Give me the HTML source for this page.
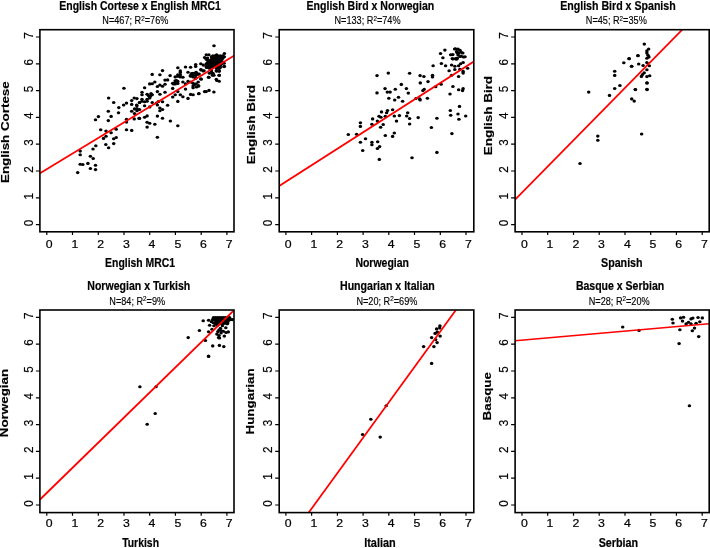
<!DOCTYPE html>
<html><head><meta charset="utf-8"><title>Scatter plots</title>
<style>
html,body{margin:0;padding:0;background:#fff;}
svg{display:block;}
text{font-family:"Liberation Sans",sans-serif;fill:#000;}
.t{font-weight:bold;font-size:12.1px;stroke:#000;stroke-width:0.2;}
.s{font-size:11px;stroke:#000;stroke-width:0.15;}
.k{font-size:10.5px;text-anchor:middle;stroke:#000;stroke-width:0.2;}
.ky{font-size:12.7px;text-anchor:middle;stroke:#000;stroke-width:0.2;}

.a{font-weight:bold;font-size:12.4px;stroke:#000;stroke-width:0.2;}
.y{font-weight:bold;font-size:10px;stroke:#000;stroke-width:0.15;}
.f{fill:none;stroke:#000;stroke-width:1.6;}
.tk{fill:none;stroke:#000;stroke-width:1.2;}
.d{fill:#000;}
.r{stroke:#ff0000;stroke-width:1.75;fill:none;}
</style></head><body>
<svg width="710" height="548" viewBox="0 0 710 548">
<rect width="710" height="548" fill="#fff"/>
<g id="p1">
<clipPath id="c1"><rect x="39.9" y="29.7" width="194.1" height="202.1"/></clipPath>
<text class="t" x="59.3" y="9.8" textLength="161.6" lengthAdjust="spacingAndGlyphs">English Cortese x English MRC1</text>
<text class="s" transform="translate(102.3 24.4) scale(0.832 1)">N=467; R<tspan font-size="7.6" dy="-3.8">2</tspan><tspan dy="3.8">=76%</tspan></text>
<text class="k" transform="translate(49.1 247.7) scale(1.17 1)">0</text>
<text class="ky" transform="translate(32.7 223.0) rotate(-90) scale(0.92 1)">0</text>
<text class="k" transform="translate(74.8 247.7) scale(1.17 1)">1</text>
<text class="ky" transform="translate(32.7 196.2) rotate(-90) scale(0.92 1)">1</text>
<text class="k" transform="translate(100.6 247.7) scale(1.17 1)">2</text>
<text class="ky" transform="translate(32.7 169.4) rotate(-90) scale(0.92 1)">2</text>
<text class="k" transform="translate(126.3 247.7) scale(1.17 1)">3</text>
<text class="ky" transform="translate(32.7 142.6) rotate(-90) scale(0.92 1)">3</text>
<text class="k" transform="translate(152.0 247.7) scale(1.17 1)">4</text>
<text class="ky" transform="translate(32.7 115.8) rotate(-90) scale(0.92 1)">4</text>
<text class="k" transform="translate(177.8 247.7) scale(1.17 1)">5</text>
<text class="ky" transform="translate(32.7 89.0) rotate(-90) scale(0.92 1)">5</text>
<text class="k" transform="translate(203.5 247.7) scale(1.17 1)">6</text>
<text class="ky" transform="translate(32.7 62.2) rotate(-90) scale(0.92 1)">6</text>
<text class="k" transform="translate(229.2 247.7) scale(1.17 1)">7</text>
<text class="ky" transform="translate(32.7 35.4) rotate(-90) scale(0.92 1)">7</text>
<path class="tk" d="M46.8 231.8v3.2M39.9 224.6h-4M72.5 231.8v3.2M39.9 197.8h-4M98.3 231.8v3.2M39.9 171.0h-4M124.0 231.8v3.2M39.9 144.2h-4M149.7 231.8v3.2M39.9 117.4h-4M175.4 231.8v3.2M39.9 90.6h-4M201.2 231.8v3.2M39.9 63.8h-4M226.9 231.8v3.2M39.9 37.0h-4"/>
<g class="d"><ellipse cx="77.7" cy="172.6" rx="1.75" ry="1.55"/><ellipse cx="80.2" cy="151.1" rx="1.75" ry="1.55"/><ellipse cx="80.2" cy="154.7" rx="1.75" ry="1.55"/><ellipse cx="80.2" cy="164.3" rx="1.75" ry="1.55"/><ellipse cx="82.8" cy="164.5" rx="1.75" ry="1.55"/><ellipse cx="87.9" cy="163.4" rx="1.75" ry="1.55"/><ellipse cx="90.4" cy="156.2" rx="1.75" ry="1.55"/><ellipse cx="93.2" cy="158.5" rx="1.75" ry="1.55"/><ellipse cx="90.4" cy="168.5" rx="1.75" ry="1.55"/><ellipse cx="95.5" cy="165.2" rx="1.75" ry="1.55"/><ellipse cx="95.5" cy="169.6" rx="1.75" ry="1.55"/><ellipse cx="93.0" cy="149.0" rx="1.75" ry="1.55"/><ellipse cx="95.8" cy="145.8" rx="1.75" ry="1.55"/><ellipse cx="95.5" cy="119.8" rx="1.75" ry="1.55"/><ellipse cx="98.4" cy="116.6" rx="1.75" ry="1.55"/><ellipse cx="100.7" cy="129.8" rx="1.75" ry="1.55"/><ellipse cx="103.5" cy="138.4" rx="1.75" ry="1.55"/><ellipse cx="106.0" cy="136.2" rx="1.75" ry="1.55"/><ellipse cx="106.0" cy="131.1" rx="1.75" ry="1.55"/><ellipse cx="105.8" cy="144.5" rx="1.75" ry="1.55"/><ellipse cx="108.6" cy="147.7" rx="1.75" ry="1.55"/><ellipse cx="108.3" cy="120.6" rx="1.75" ry="1.55"/><ellipse cx="108.3" cy="111.3" rx="1.75" ry="1.55"/><ellipse cx="111.1" cy="116.4" rx="1.75" ry="1.55"/><ellipse cx="111.1" cy="132.7" rx="1.75" ry="1.55"/><ellipse cx="113.7" cy="138.7" rx="1.75" ry="1.55"/><ellipse cx="116.2" cy="137.5" rx="1.75" ry="1.55"/><ellipse cx="113.7" cy="143.6" rx="1.75" ry="1.55"/><ellipse cx="116.2" cy="129.2" rx="1.75" ry="1.55"/><ellipse cx="118.5" cy="112.8" rx="1.75" ry="1.55"/><ellipse cx="126.5" cy="119.2" rx="1.75" ry="1.55"/><ellipse cx="126.5" cy="122.1" rx="1.75" ry="1.55"/><ellipse cx="126.5" cy="129.8" rx="1.75" ry="1.55"/><ellipse cx="131.7" cy="130.4" rx="1.75" ry="1.55"/><ellipse cx="134.2" cy="118.9" rx="1.75" ry="1.55"/><ellipse cx="131.7" cy="111.3" rx="1.75" ry="1.55"/><ellipse cx="134.5" cy="113.6" rx="1.75" ry="1.55"/><ellipse cx="139.0" cy="118.3" rx="1.75" ry="1.55"/><ellipse cx="123.9" cy="88.2" rx="1.75" ry="1.55"/><ellipse cx="108.6" cy="98.0" rx="1.75" ry="1.55"/><ellipse cx="113.7" cy="102.5" rx="1.75" ry="1.55"/><ellipse cx="118.8" cy="107.6" rx="1.75" ry="1.55"/><ellipse cx="123.6" cy="105.0" rx="1.75" ry="1.55"/><ellipse cx="126.5" cy="103.1" rx="1.75" ry="1.55"/><ellipse cx="131.7" cy="100.6" rx="1.75" ry="1.55"/><ellipse cx="134.2" cy="98.0" rx="1.75" ry="1.55"/><ellipse cx="131.7" cy="104.4" rx="1.75" ry="1.55"/><ellipse cx="136.7" cy="105.0" rx="1.75" ry="1.55"/><ellipse cx="139.6" cy="102.5" rx="1.75" ry="1.55"/><ellipse cx="134.5" cy="108.9" rx="1.75" ry="1.55"/><ellipse cx="137.0" cy="110.8" rx="1.75" ry="1.55"/><ellipse cx="157.4" cy="137.3" rx="1.75" ry="1.55"/><ellipse cx="177.8" cy="125.7" rx="1.75" ry="1.55"/><ellipse cx="170.4" cy="121.0" rx="1.75" ry="1.55"/><ellipse cx="154.8" cy="124.2" rx="1.75" ry="1.55"/><ellipse cx="147.1" cy="127.1" rx="1.75" ry="1.55"/><ellipse cx="147.1" cy="122.3" rx="1.75" ry="1.55"/><ellipse cx="149.7" cy="123.3" rx="1.75" ry="1.55"/><ellipse cx="139.5" cy="118.4" rx="1.75" ry="1.55"/><ellipse cx="144.6" cy="117.2" rx="1.75" ry="1.55"/><ellipse cx="147.1" cy="115.9" rx="1.75" ry="1.55"/><ellipse cx="157.4" cy="116.1" rx="1.75" ry="1.55"/><ellipse cx="162.5" cy="118.2" rx="1.75" ry="1.55"/><ellipse cx="159.9" cy="110.8" rx="1.75" ry="1.55"/><ellipse cx="162.5" cy="109.5" rx="1.75" ry="1.55"/><ellipse cx="159.9" cy="108.0" rx="1.75" ry="1.55"/><ellipse cx="167.6" cy="105.3" rx="1.75" ry="1.55"/><ellipse cx="177.8" cy="101.4" rx="1.75" ry="1.55"/><ellipse cx="157.4" cy="105.0" rx="1.75" ry="1.55"/><ellipse cx="162.5" cy="101.8" rx="1.75" ry="1.55"/><ellipse cx="152.2" cy="102.5" rx="1.75" ry="1.55"/><ellipse cx="149.7" cy="106.9" rx="1.75" ry="1.55"/><ellipse cx="144.6" cy="105.7" rx="1.75" ry="1.55"/><ellipse cx="136.9" cy="105.7" rx="1.75" ry="1.55"/><ellipse cx="136.9" cy="108.5" rx="1.75" ry="1.55"/><ellipse cx="139.5" cy="109.5" rx="1.75" ry="1.55"/><ellipse cx="139.5" cy="102.5" rx="1.75" ry="1.55"/><ellipse cx="142.0" cy="99.3" rx="1.75" ry="1.55"/><ellipse cx="142.0" cy="101.2" rx="1.75" ry="1.55"/><ellipse cx="144.6" cy="101.8" rx="1.75" ry="1.55"/><ellipse cx="147.1" cy="101.2" rx="1.75" ry="1.55"/><ellipse cx="147.1" cy="99.3" rx="1.75" ry="1.55"/><ellipse cx="149.7" cy="98.0" rx="1.75" ry="1.55"/><ellipse cx="142.0" cy="92.2" rx="1.75" ry="1.55"/><ellipse cx="142.0" cy="94.8" rx="1.75" ry="1.55"/><ellipse cx="144.6" cy="87.8" rx="1.75" ry="1.55"/><ellipse cx="147.1" cy="94.2" rx="1.75" ry="1.55"/><ellipse cx="148.4" cy="95.4" rx="1.75" ry="1.55"/><ellipse cx="149.7" cy="96.7" rx="1.75" ry="1.55"/><ellipse cx="152.2" cy="94.8" rx="1.75" ry="1.55"/><ellipse cx="149.7" cy="83.9" rx="1.75" ry="1.55"/><ellipse cx="152.2" cy="83.7" rx="1.75" ry="1.55"/><ellipse cx="154.8" cy="82.0" rx="1.75" ry="1.55"/><ellipse cx="157.4" cy="91.6" rx="1.75" ry="1.55"/><ellipse cx="159.9" cy="94.2" rx="1.75" ry="1.55"/><ellipse cx="165.0" cy="92.2" rx="1.75" ry="1.55"/><ellipse cx="157.4" cy="86.5" rx="1.75" ry="1.55"/><ellipse cx="159.9" cy="85.0" rx="1.75" ry="1.55"/><ellipse cx="162.5" cy="86.2" rx="1.75" ry="1.55"/><ellipse cx="165.0" cy="84.2" rx="1.75" ry="1.55"/><ellipse cx="165.0" cy="80.1" rx="1.75" ry="1.55"/><ellipse cx="167.6" cy="79.9" rx="1.75" ry="1.55"/><ellipse cx="170.1" cy="75.6" rx="1.75" ry="1.55"/><ellipse cx="172.7" cy="83.3" rx="1.75" ry="1.55"/><ellipse cx="175.2" cy="83.9" rx="1.75" ry="1.55"/><ellipse cx="175.2" cy="80.7" rx="1.75" ry="1.55"/><ellipse cx="177.8" cy="81.4" rx="1.75" ry="1.55"/><ellipse cx="172.7" cy="88.4" rx="1.75" ry="1.55"/><ellipse cx="177.8" cy="91.6" rx="1.75" ry="1.55"/><ellipse cx="175.2" cy="94.8" rx="1.75" ry="1.55"/><ellipse cx="172.7" cy="97.0" rx="1.75" ry="1.55"/><ellipse cx="180.3" cy="94.8" rx="1.75" ry="1.55"/><ellipse cx="182.9" cy="96.7" rx="1.75" ry="1.55"/><ellipse cx="188.0" cy="98.4" rx="1.75" ry="1.55"/><ellipse cx="190.6" cy="94.4" rx="1.75" ry="1.55"/><ellipse cx="193.1" cy="94.8" rx="1.75" ry="1.55"/><ellipse cx="198.9" cy="93.5" rx="1.75" ry="1.55"/><ellipse cx="204.6" cy="91.6" rx="1.75" ry="1.55"/><ellipse cx="185.5" cy="89.1" rx="1.75" ry="1.55"/><ellipse cx="193.1" cy="87.8" rx="1.75" ry="1.55"/><ellipse cx="193.1" cy="85.9" rx="1.75" ry="1.55"/><ellipse cx="198.2" cy="85.9" rx="1.75" ry="1.55"/><ellipse cx="185.5" cy="83.9" rx="1.75" ry="1.55"/><ellipse cx="182.9" cy="82.0" rx="1.75" ry="1.55"/><ellipse cx="188.0" cy="81.4" rx="1.75" ry="1.55"/><ellipse cx="190.6" cy="82.0" rx="1.75" ry="1.55"/><ellipse cx="193.1" cy="83.3" rx="1.75" ry="1.55"/><ellipse cx="177.8" cy="76.3" rx="1.75" ry="1.55"/><ellipse cx="180.3" cy="76.9" rx="1.75" ry="1.55"/><ellipse cx="182.9" cy="77.3" rx="1.75" ry="1.55"/><ellipse cx="175.2" cy="76.9" rx="1.75" ry="1.55"/><ellipse cx="190.6" cy="76.3" rx="1.75" ry="1.55"/><ellipse cx="193.1" cy="76.9" rx="1.75" ry="1.55"/><ellipse cx="195.7" cy="78.2" rx="1.75" ry="1.55"/><ellipse cx="200.8" cy="78.8" rx="1.75" ry="1.55"/><ellipse cx="198.2" cy="82.0" rx="1.75" ry="1.55"/><ellipse cx="136.9" cy="98.6" rx="1.75" ry="1.55"/><ellipse cx="152.2" cy="74.4" rx="1.75" ry="1.55"/><ellipse cx="159.9" cy="74.7" rx="1.75" ry="1.55"/><ellipse cx="162.5" cy="70.6" rx="1.75" ry="1.55"/><ellipse cx="177.8" cy="67.7" rx="1.75" ry="1.55"/><ellipse cx="180.3" cy="70.9" rx="1.75" ry="1.55"/><ellipse cx="177.8" cy="74.7" rx="1.75" ry="1.55"/><ellipse cx="185.5" cy="67.0" rx="1.75" ry="1.55"/><ellipse cx="190.6" cy="67.3" rx="1.75" ry="1.55"/><ellipse cx="188.0" cy="72.2" rx="1.75" ry="1.55"/><ellipse cx="195.7" cy="64.5" rx="1.75" ry="1.55"/><ellipse cx="195.7" cy="66.4" rx="1.75" ry="1.55"/><ellipse cx="200.8" cy="63.8" rx="1.75" ry="1.55"/><ellipse cx="203.3" cy="65.1" rx="1.75" ry="1.55"/><ellipse cx="204.6" cy="57.5" rx="1.75" ry="1.55"/><ellipse cx="193.1" cy="73.4" rx="1.75" ry="1.55"/><ellipse cx="195.7" cy="72.8" rx="1.75" ry="1.55"/><ellipse cx="198.2" cy="74.1" rx="1.75" ry="1.55"/><ellipse cx="190.6" cy="75.3" rx="1.75" ry="1.55"/><ellipse cx="200.8" cy="69.6" rx="1.75" ry="1.55"/><ellipse cx="203.3" cy="70.9" rx="1.75" ry="1.55"/><ellipse cx="180.3" cy="74.7" rx="1.75" ry="1.55"/><ellipse cx="214.0" cy="45.7" rx="1.75" ry="1.55"/><ellipse cx="198.7" cy="93.7" rx="1.75" ry="1.55"/><ellipse cx="206.1" cy="91.6" rx="1.75" ry="1.55"/><ellipse cx="209.0" cy="90.4" rx="1.75" ry="1.55"/><ellipse cx="213.9" cy="92.0" rx="1.75" ry="1.55"/><ellipse cx="216.8" cy="80.5" rx="1.75" ry="1.55"/><ellipse cx="219.2" cy="81.2" rx="1.75" ry="1.55"/><ellipse cx="219.2" cy="75.2" rx="1.75" ry="1.55"/><ellipse cx="208.5" cy="77.2" rx="1.75" ry="1.55"/><ellipse cx="201.2" cy="79.3" rx="1.75" ry="1.55"/><ellipse cx="196.2" cy="83.8" rx="1.75" ry="1.55"/><ellipse cx="198.7" cy="85.9" rx="1.75" ry="1.55"/><ellipse cx="213.9" cy="75.2" rx="1.75" ry="1.55"/><ellipse cx="212.2" cy="73.1" rx="1.75" ry="1.55"/><ellipse cx="216.3" cy="70.7" rx="1.75" ry="1.55"/><ellipse cx="219.2" cy="71.1" rx="1.75" ry="1.55"/><ellipse cx="224.1" cy="66.6" rx="1.75" ry="1.55"/><ellipse cx="224.1" cy="63.3" rx="1.75" ry="1.55"/><ellipse cx="196.2" cy="72.3" rx="1.75" ry="1.55"/><ellipse cx="196.2" cy="74.8" rx="1.75" ry="1.55"/><ellipse cx="199.1" cy="74.0" rx="1.75" ry="1.55"/><ellipse cx="201.2" cy="69.9" rx="1.75" ry="1.55"/><ellipse cx="204.0" cy="70.7" rx="1.75" ry="1.55"/><ellipse cx="206.5" cy="67.4" rx="1.75" ry="1.55"/><ellipse cx="209.4" cy="68.2" rx="1.75" ry="1.55"/><ellipse cx="211.4" cy="70.7" rx="1.75" ry="1.55"/><ellipse cx="206.3" cy="54.7" rx="1.75" ry="1.55"/><ellipse cx="208.9" cy="54.7" rx="1.75" ry="1.55"/><ellipse cx="216.6" cy="54.7" rx="1.75" ry="1.55"/><ellipse cx="224.4" cy="53.5" rx="1.75" ry="1.55"/><ellipse cx="211.5" cy="56.8" rx="1.75" ry="1.55"/><ellipse cx="214.0" cy="56.8" rx="1.75" ry="1.55"/><ellipse cx="216.6" cy="56.8" rx="1.75" ry="1.55"/><ellipse cx="219.2" cy="56.8" rx="1.75" ry="1.55"/><ellipse cx="221.8" cy="56.8" rx="1.75" ry="1.55"/><ellipse cx="224.3" cy="56.8" rx="1.75" ry="1.55"/><ellipse cx="206.3" cy="59.2" rx="1.75" ry="1.55"/><ellipse cx="211.5" cy="59.2" rx="1.75" ry="1.55"/><ellipse cx="214.0" cy="59.2" rx="1.75" ry="1.55"/><ellipse cx="216.6" cy="59.2" rx="1.75" ry="1.55"/><ellipse cx="219.2" cy="59.2" rx="1.75" ry="1.55"/><ellipse cx="221.8" cy="59.2" rx="1.75" ry="1.55"/><ellipse cx="208.9" cy="61.3" rx="1.75" ry="1.55"/><ellipse cx="211.5" cy="61.3" rx="1.75" ry="1.55"/><ellipse cx="214.0" cy="61.3" rx="1.75" ry="1.55"/><ellipse cx="216.6" cy="61.3" rx="1.75" ry="1.55"/><ellipse cx="219.2" cy="61.3" rx="1.75" ry="1.55"/><ellipse cx="221.8" cy="61.3" rx="1.75" ry="1.55"/><ellipse cx="206.3" cy="63.7" rx="1.75" ry="1.55"/><ellipse cx="208.9" cy="63.7" rx="1.75" ry="1.55"/><ellipse cx="211.5" cy="63.7" rx="1.75" ry="1.55"/><ellipse cx="214.0" cy="63.7" rx="1.75" ry="1.55"/><ellipse cx="216.6" cy="63.7" rx="1.75" ry="1.55"/><ellipse cx="219.2" cy="63.7" rx="1.75" ry="1.55"/><ellipse cx="221.8" cy="63.7" rx="1.75" ry="1.55"/><ellipse cx="206.3" cy="66.2" rx="1.75" ry="1.55"/><ellipse cx="208.9" cy="66.2" rx="1.75" ry="1.55"/><ellipse cx="211.5" cy="66.2" rx="1.75" ry="1.55"/><ellipse cx="214.0" cy="66.2" rx="1.75" ry="1.55"/><ellipse cx="224.3" cy="66.2" rx="1.75" ry="1.55"/><ellipse cx="216.6" cy="68.5" rx="1.75" ry="1.55"/><ellipse cx="219.2" cy="68.5" rx="1.75" ry="1.55"/><ellipse cx="216.6" cy="71.1" rx="1.75" ry="1.55"/><ellipse cx="219.2" cy="71.1" rx="1.75" ry="1.55"/><ellipse cx="209.5" cy="73.2" rx="1.75" ry="1.55"/><ellipse cx="213.0" cy="73.2" rx="1.75" ry="1.55"/><ellipse cx="212.5" cy="75.2" rx="1.75" ry="1.55"/><ellipse cx="219.2" cy="75.2" rx="1.75" ry="1.55"/><ellipse cx="208.9" cy="77.3" rx="1.75" ry="1.55"/><ellipse cx="216.3" cy="79.3" rx="1.75" ry="1.55"/><ellipse cx="175.2" cy="82.3" rx="1.75" ry="1.55"/><ellipse cx="177.8" cy="83.5" rx="1.75" ry="1.55"/><ellipse cx="173.5" cy="84.0" rx="1.75" ry="1.55"/><ellipse cx="176.5" cy="80.5" rx="1.75" ry="1.55"/><ellipse cx="180.3" cy="72.5" rx="1.75" ry="1.55"/><ellipse cx="178.5" cy="76.0" rx="1.75" ry="1.55"/><ellipse cx="193.1" cy="75.0" rx="1.75" ry="1.55"/><ellipse cx="195.7" cy="75.5" rx="1.75" ry="1.55"/><ellipse cx="191.5" cy="73.5" rx="1.75" ry="1.55"/><ellipse cx="194.5" cy="84.5" rx="1.75" ry="1.55"/><ellipse cx="196.5" cy="87.0" rx="1.75" ry="1.55"/><ellipse cx="150.5" cy="96.0" rx="1.75" ry="1.55"/><ellipse cx="151.0" cy="93.5" rx="1.75" ry="1.55"/><ellipse cx="158.5" cy="101.5" rx="1.75" ry="1.55"/><ellipse cx="156.5" cy="103.0" rx="1.75" ry="1.55"/><ellipse cx="213.0" cy="55.8" rx="1.75" ry="1.55"/><ellipse cx="215.3" cy="55.8" rx="1.75" ry="1.55"/><ellipse cx="217.8" cy="55.8" rx="1.75" ry="1.55"/><ellipse cx="220.3" cy="55.8" rx="1.75" ry="1.55"/><ellipse cx="222.8" cy="55.8" rx="1.75" ry="1.55"/><ellipse cx="207.5" cy="58.0" rx="1.75" ry="1.55"/><ellipse cx="212.6" cy="58.0" rx="1.75" ry="1.55"/><ellipse cx="215.2" cy="58.0" rx="1.75" ry="1.55"/><ellipse cx="217.9" cy="58.0" rx="1.75" ry="1.55"/><ellipse cx="220.4" cy="58.0" rx="1.75" ry="1.55"/><ellipse cx="223.0" cy="58.0" rx="1.75" ry="1.55"/><ellipse cx="207.6" cy="60.3" rx="1.75" ry="1.55"/><ellipse cx="210.2" cy="60.3" rx="1.75" ry="1.55"/><ellipse cx="212.8" cy="60.3" rx="1.75" ry="1.55"/><ellipse cx="215.3" cy="60.3" rx="1.75" ry="1.55"/><ellipse cx="217.9" cy="60.3" rx="1.75" ry="1.55"/><ellipse cx="220.5" cy="60.3" rx="1.75" ry="1.55"/><ellipse cx="207.6" cy="62.5" rx="1.75" ry="1.55"/><ellipse cx="210.2" cy="62.5" rx="1.75" ry="1.55"/><ellipse cx="212.8" cy="62.5" rx="1.75" ry="1.55"/><ellipse cx="215.3" cy="62.5" rx="1.75" ry="1.55"/><ellipse cx="217.9" cy="62.5" rx="1.75" ry="1.55"/><ellipse cx="220.5" cy="62.5" rx="1.75" ry="1.55"/><ellipse cx="223.0" cy="62.5" rx="1.75" ry="1.55"/><ellipse cx="207.6" cy="65.0" rx="1.75" ry="1.55"/><ellipse cx="210.2" cy="65.0" rx="1.75" ry="1.55"/><ellipse cx="212.8" cy="65.0" rx="1.75" ry="1.55"/><ellipse cx="215.3" cy="65.0" rx="1.75" ry="1.55"/><ellipse cx="218.0" cy="65.0" rx="1.75" ry="1.55"/><ellipse cx="220.5" cy="65.0" rx="1.75" ry="1.55"/><ellipse cx="207.6" cy="67.3" rx="1.75" ry="1.55"/><ellipse cx="210.2" cy="67.3" rx="1.75" ry="1.55"/><ellipse cx="212.8" cy="67.3" rx="1.75" ry="1.55"/><ellipse cx="218.0" cy="67.3" rx="1.75" ry="1.55"/><ellipse cx="220.5" cy="67.3" rx="1.75" ry="1.55"/></g>
<path class="r" clip-path="url(#c1)" d="M40 173.2L234 55.8"/>
<rect class="f" x="39.9" y="29.7" width="194.1" height="202.1"/>
<text class="a" x="105.1" y="266.6" textLength="70.0" lengthAdjust="spacingAndGlyphs">English MRC1</text>
<text class="y" transform="translate(8.6 183.0) rotate(-90)" textLength="101.7" lengthAdjust="spacingAndGlyphs">English Cortese</text>
</g>
<g id="p2">
<clipPath id="c2"><rect x="279.2" y="29.7" width="194.6" height="202.1"/></clipPath>
<text class="t" x="306.6" y="9.8" textLength="127.6" lengthAdjust="spacingAndGlyphs">English Bird x Norwegian</text>
<text class="s" transform="translate(334.5 24.4) scale(0.832 1)">N=133; R<tspan font-size="7.6" dy="-3.8">2</tspan><tspan dy="3.8">=74%</tspan></text>
<text class="k" transform="translate(288.2 247.7) scale(1.17 1)">0</text>
<text class="ky" transform="translate(272.0 223.0) rotate(-90) scale(0.92 1)">0</text>
<text class="k" transform="translate(313.9 247.7) scale(1.17 1)">1</text>
<text class="ky" transform="translate(272.0 196.2) rotate(-90) scale(0.92 1)">1</text>
<text class="k" transform="translate(339.7 247.7) scale(1.17 1)">2</text>
<text class="ky" transform="translate(272.0 169.4) rotate(-90) scale(0.92 1)">2</text>
<text class="k" transform="translate(365.4 247.7) scale(1.17 1)">3</text>
<text class="ky" transform="translate(272.0 142.6) rotate(-90) scale(0.92 1)">3</text>
<text class="k" transform="translate(391.1 247.7) scale(1.17 1)">4</text>
<text class="ky" transform="translate(272.0 115.8) rotate(-90) scale(0.92 1)">4</text>
<text class="k" transform="translate(416.8 247.7) scale(1.17 1)">5</text>
<text class="ky" transform="translate(272.0 89.0) rotate(-90) scale(0.92 1)">5</text>
<text class="k" transform="translate(442.6 247.7) scale(1.17 1)">6</text>
<text class="ky" transform="translate(272.0 62.2) rotate(-90) scale(0.92 1)">6</text>
<text class="k" transform="translate(468.3 247.7) scale(1.17 1)">7</text>
<text class="ky" transform="translate(272.0 35.4) rotate(-90) scale(0.92 1)">7</text>
<path class="tk" d="M285.9 231.8v3.2M279.2 224.6h-4M311.6 231.8v3.2M279.2 197.8h-4M337.4 231.8v3.2M279.2 171.0h-4M363.1 231.8v3.2M279.2 144.2h-4M388.8 231.8v3.2M279.2 117.4h-4M414.5 231.8v3.2M279.2 90.6h-4M440.3 231.8v3.2M279.2 63.8h-4M466.0 231.8v3.2M279.2 37.0h-4"/>
<g class="d"><ellipse cx="348.3" cy="134.5" rx="1.75" ry="1.55"/><ellipse cx="356.6" cy="134.2" rx="1.75" ry="1.55"/><ellipse cx="360.4" cy="122.7" rx="1.75" ry="1.55"/><ellipse cx="360.4" cy="126.4" rx="1.75" ry="1.55"/><ellipse cx="360.4" cy="142.2" rx="1.75" ry="1.55"/><ellipse cx="365.5" cy="138.7" rx="1.75" ry="1.55"/><ellipse cx="362.7" cy="150.5" rx="1.75" ry="1.55"/><ellipse cx="371.9" cy="142.2" rx="1.75" ry="1.55"/><ellipse cx="371.9" cy="144.7" rx="1.75" ry="1.55"/><ellipse cx="377.7" cy="141.8" rx="1.75" ry="1.55"/><ellipse cx="379.6" cy="146.6" rx="1.75" ry="1.55"/><ellipse cx="377.4" cy="148.5" rx="1.75" ry="1.55"/><ellipse cx="379.3" cy="159.4" rx="1.75" ry="1.55"/><ellipse cx="372.6" cy="118.9" rx="1.75" ry="1.55"/><ellipse cx="371.9" cy="124.3" rx="1.75" ry="1.55"/><ellipse cx="377.4" cy="121.1" rx="1.75" ry="1.55"/><ellipse cx="379.0" cy="116.3" rx="1.75" ry="1.55"/><ellipse cx="380.9" cy="117.2" rx="1.75" ry="1.55"/><ellipse cx="381.5" cy="111.9" rx="1.75" ry="1.55"/><ellipse cx="380.6" cy="127.2" rx="1.75" ry="1.55"/><ellipse cx="383.2" cy="124.5" rx="1.75" ry="1.55"/><ellipse cx="385.3" cy="135.5" rx="1.75" ry="1.55"/><ellipse cx="385.3" cy="116.3" rx="1.75" ry="1.55"/><ellipse cx="386.6" cy="112.8" rx="1.75" ry="1.55"/><ellipse cx="387.5" cy="110.5" rx="1.75" ry="1.55"/><ellipse cx="392.6" cy="109.8" rx="1.75" ry="1.55"/><ellipse cx="394.3" cy="116.0" rx="1.75" ry="1.55"/><ellipse cx="399.4" cy="115.6" rx="1.75" ry="1.55"/><ellipse cx="396.5" cy="121.1" rx="1.75" ry="1.55"/><ellipse cx="394.3" cy="133.0" rx="1.75" ry="1.55"/><ellipse cx="392.6" cy="136.4" rx="1.75" ry="1.55"/><ellipse cx="406.7" cy="116.0" rx="1.75" ry="1.55"/><ellipse cx="407.7" cy="112.8" rx="1.75" ry="1.55"/><ellipse cx="409.6" cy="118.5" rx="1.75" ry="1.55"/><ellipse cx="409.6" cy="124.0" rx="1.75" ry="1.55"/><ellipse cx="394.7" cy="100.0" rx="1.75" ry="1.55"/><ellipse cx="402.6" cy="101.3" rx="1.75" ry="1.55"/><ellipse cx="418.2" cy="117.6" rx="1.75" ry="1.55"/><ellipse cx="420.1" cy="100.0" rx="1.75" ry="1.55"/><ellipse cx="431.4" cy="127.5" rx="1.75" ry="1.55"/><ellipse cx="436.9" cy="118.3" rx="1.75" ry="1.55"/><ellipse cx="436.9" cy="152.4" rx="1.75" ry="1.55"/><ellipse cx="412.0" cy="157.7" rx="1.75" ry="1.55"/><ellipse cx="450.3" cy="110.5" rx="1.75" ry="1.55"/><ellipse cx="450.7" cy="115.3" rx="1.75" ry="1.55"/><ellipse cx="451.9" cy="133.6" rx="1.75" ry="1.55"/><ellipse cx="459.5" cy="106.4" rx="1.75" ry="1.55"/><ellipse cx="458.0" cy="114.0" rx="1.75" ry="1.55"/><ellipse cx="458.9" cy="119.2" rx="1.75" ry="1.55"/><ellipse cx="465.7" cy="116.0" rx="1.75" ry="1.55"/><ellipse cx="377.0" cy="75.6" rx="1.75" ry="1.55"/><ellipse cx="388.3" cy="73.1" rx="1.75" ry="1.55"/><ellipse cx="409.6" cy="73.3" rx="1.75" ry="1.55"/><ellipse cx="401.3" cy="84.4" rx="1.75" ry="1.55"/><ellipse cx="385.0" cy="88.6" rx="1.75" ry="1.55"/><ellipse cx="395.3" cy="89.3" rx="1.75" ry="1.55"/><ellipse cx="406.4" cy="88.6" rx="1.75" ry="1.55"/><ellipse cx="377.0" cy="92.9" rx="1.75" ry="1.55"/><ellipse cx="387.3" cy="92.1" rx="1.75" ry="1.55"/><ellipse cx="390.1" cy="92.1" rx="1.75" ry="1.55"/><ellipse cx="408.3" cy="93.1" rx="1.75" ry="1.55"/><ellipse cx="388.8" cy="98.2" rx="1.75" ry="1.55"/><ellipse cx="398.5" cy="97.3" rx="1.75" ry="1.55"/><ellipse cx="420.1" cy="75.6" rx="1.75" ry="1.55"/><ellipse cx="423.9" cy="76.5" rx="1.75" ry="1.55"/><ellipse cx="420.3" cy="82.9" rx="1.75" ry="1.55"/><ellipse cx="428.0" cy="81.6" rx="1.75" ry="1.55"/><ellipse cx="432.5" cy="75.2" rx="1.75" ry="1.55"/><ellipse cx="432.5" cy="76.9" rx="1.75" ry="1.55"/><ellipse cx="433.1" cy="65.7" rx="1.75" ry="1.55"/><ellipse cx="424.2" cy="89.3" rx="1.75" ry="1.55"/><ellipse cx="422.9" cy="90.6" rx="1.75" ry="1.55"/><ellipse cx="435.7" cy="86.7" rx="1.75" ry="1.55"/><ellipse cx="441.1" cy="84.2" rx="1.75" ry="1.55"/><ellipse cx="419.7" cy="98.9" rx="1.75" ry="1.55"/><ellipse cx="427.4" cy="98.2" rx="1.75" ry="1.55"/><ellipse cx="415.9" cy="98.5" rx="1.75" ry="1.55"/><ellipse cx="440.5" cy="53.5" rx="1.75" ry="1.55"/><ellipse cx="444.9" cy="50.1" rx="1.75" ry="1.55"/><ellipse cx="442.9" cy="57.7" rx="1.75" ry="1.55"/><ellipse cx="441.4" cy="63.5" rx="1.75" ry="1.55"/><ellipse cx="445.6" cy="65.7" rx="1.75" ry="1.55"/><ellipse cx="449.1" cy="70.8" rx="1.75" ry="1.55"/><ellipse cx="450.0" cy="94.0" rx="1.75" ry="1.55"/><ellipse cx="452.9" cy="86.5" rx="1.75" ry="1.55"/><ellipse cx="458.6" cy="89.7" rx="1.75" ry="1.55"/><ellipse cx="463.1" cy="88.6" rx="1.75" ry="1.55"/><ellipse cx="462.5" cy="90.6" rx="1.75" ry="1.55"/><ellipse cx="450.7" cy="54.8" rx="1.75" ry="1.55"/><ellipse cx="451.6" cy="65.0" rx="1.75" ry="1.55"/><ellipse cx="452.3" cy="58.6" rx="1.75" ry="1.55"/><ellipse cx="455.5" cy="58.6" rx="1.75" ry="1.55"/><ellipse cx="457.4" cy="58.0" rx="1.75" ry="1.55"/><ellipse cx="454.8" cy="66.3" rx="1.75" ry="1.55"/><ellipse cx="454.8" cy="69.5" rx="1.75" ry="1.55"/><ellipse cx="458.6" cy="65.7" rx="1.75" ry="1.55"/><ellipse cx="460.6" cy="63.7" rx="1.75" ry="1.55"/><ellipse cx="463.1" cy="62.5" rx="1.75" ry="1.55"/><ellipse cx="455.5" cy="48.8" rx="1.75" ry="1.55"/><ellipse cx="458.0" cy="49.1" rx="1.75" ry="1.55"/><ellipse cx="456.7" cy="51.6" rx="1.75" ry="1.55"/><ellipse cx="458.6" cy="52.9" rx="1.75" ry="1.55"/><ellipse cx="461.2" cy="52.2" rx="1.75" ry="1.55"/><ellipse cx="458.0" cy="54.8" rx="1.75" ry="1.55"/><ellipse cx="461.2" cy="56.1" rx="1.75" ry="1.55"/><ellipse cx="465.0" cy="56.7" rx="1.75" ry="1.55"/><ellipse cx="467.6" cy="68.2" rx="1.75" ry="1.55"/><ellipse cx="463.1" cy="71.4" rx="1.75" ry="1.55"/><ellipse cx="463.1" cy="73.1" rx="1.75" ry="1.55"/><ellipse cx="458.6" cy="76.5" rx="1.75" ry="1.55"/><ellipse cx="451.6" cy="75.2" rx="1.75" ry="1.55"/><ellipse cx="459.9" cy="69.2" rx="1.75" ry="1.55"/><ellipse cx="454.6" cy="49.0" rx="1.75" ry="1.55"/><ellipse cx="460.0" cy="50.2" rx="1.75" ry="1.55"/><ellipse cx="457.0" cy="52.5" rx="1.75" ry="1.55"/><ellipse cx="462.8" cy="53.0" rx="1.75" ry="1.55"/><ellipse cx="460.0" cy="56.5" rx="1.75" ry="1.55"/><ellipse cx="463.5" cy="57.0" rx="1.75" ry="1.55"/><ellipse cx="452.8" cy="54.6" rx="1.75" ry="1.55"/><ellipse cx="453.0" cy="59.0" rx="1.75" ry="1.55"/><ellipse cx="456.5" cy="59.3" rx="1.75" ry="1.55"/></g>
<path class="r" clip-path="url(#c2)" d="M279.2 186.0L473.8 61.5"/>
<rect class="f" x="279.2" y="29.7" width="194.6" height="202.1"/>
<text class="a" x="355.4" y="266.6" textLength="53.6" lengthAdjust="spacingAndGlyphs">Norwegian</text>
<text class="y" transform="translate(255.0 164.2) rotate(-90)" textLength="79.3" lengthAdjust="spacingAndGlyphs">English Bird</text>
</g>
<g id="p3">
<clipPath id="c3"><rect x="515.1" y="29.7" width="194.1" height="202.1"/></clipPath>
<text class="t" x="560.2" y="9.8" textLength="115.5" lengthAdjust="spacingAndGlyphs">English Bird x Spanish</text>
<text class="s" transform="translate(585.8 24.4) scale(0.832 1)">N=45; R<tspan font-size="7.6" dy="-3.8">2</tspan><tspan dy="3.8">=35%</tspan></text>
<text class="k" transform="translate(524.3 247.7) scale(1.17 1)">0</text>
<text class="ky" transform="translate(507.9 223.0) rotate(-90) scale(0.92 1)">0</text>
<text class="k" transform="translate(550.0 247.7) scale(1.17 1)">1</text>
<text class="ky" transform="translate(507.9 196.2) rotate(-90) scale(0.92 1)">1</text>
<text class="k" transform="translate(575.8 247.7) scale(1.17 1)">2</text>
<text class="ky" transform="translate(507.9 169.4) rotate(-90) scale(0.92 1)">2</text>
<text class="k" transform="translate(601.5 247.7) scale(1.17 1)">3</text>
<text class="ky" transform="translate(507.9 142.6) rotate(-90) scale(0.92 1)">3</text>
<text class="k" transform="translate(627.3 247.7) scale(1.17 1)">4</text>
<text class="ky" transform="translate(507.9 115.8) rotate(-90) scale(0.92 1)">4</text>
<text class="k" transform="translate(653.0 247.7) scale(1.17 1)">5</text>
<text class="ky" transform="translate(507.9 89.0) rotate(-90) scale(0.92 1)">5</text>
<text class="k" transform="translate(678.7 247.7) scale(1.17 1)">6</text>
<text class="ky" transform="translate(507.9 62.2) rotate(-90) scale(0.92 1)">6</text>
<text class="k" transform="translate(704.5 247.7) scale(1.17 1)">7</text>
<text class="ky" transform="translate(507.9 35.4) rotate(-90) scale(0.92 1)">7</text>
<path class="tk" d="M522.0 231.8v3.2M515.1 224.6h-4M547.7 231.8v3.2M515.1 197.8h-4M573.5 231.8v3.2M515.1 171.0h-4M599.2 231.8v3.2M515.1 144.2h-4M625.0 231.8v3.2M515.1 117.4h-4M650.7 231.8v3.2M515.1 90.6h-4M676.4 231.8v3.2M515.1 63.8h-4M702.2 231.8v3.2M515.1 37.0h-4"/>
<g class="d"><ellipse cx="580.0" cy="163.5" rx="1.75" ry="1.55"/><ellipse cx="597.8" cy="136.1" rx="1.75" ry="1.55"/><ellipse cx="597.8" cy="140.2" rx="1.75" ry="1.55"/><ellipse cx="588.7" cy="92.1" rx="1.75" ry="1.55"/><ellipse cx="609.5" cy="95.4" rx="1.75" ry="1.55"/><ellipse cx="614.7" cy="88.5" rx="1.75" ry="1.55"/><ellipse cx="619.9" cy="85.5" rx="1.75" ry="1.55"/><ellipse cx="614.7" cy="71.3" rx="1.75" ry="1.55"/><ellipse cx="614.7" cy="75.4" rx="1.75" ry="1.55"/><ellipse cx="623.8" cy="62.8" rx="1.75" ry="1.55"/><ellipse cx="629.0" cy="58.7" rx="1.75" ry="1.55"/><ellipse cx="631.7" cy="66.3" rx="1.75" ry="1.55"/><ellipse cx="631.7" cy="98.9" rx="1.75" ry="1.55"/><ellipse cx="634.2" cy="101.1" rx="1.75" ry="1.55"/><ellipse cx="635.3" cy="89.6" rx="1.75" ry="1.55"/><ellipse cx="641.6" cy="134.0" rx="1.75" ry="1.55"/><ellipse cx="638.0" cy="55.7" rx="1.75" ry="1.55"/><ellipse cx="647.1" cy="89.6" rx="1.75" ry="1.55"/><ellipse cx="647.1" cy="83.0" rx="1.75" ry="1.55"/><ellipse cx="644.3" cy="44.1" rx="1.75" ry="1.55"/><ellipse cx="648.6" cy="49.0" rx="1.75" ry="1.55"/><ellipse cx="646.9" cy="50.9" rx="1.75" ry="1.55"/><ellipse cx="646.9" cy="53.1" rx="1.75" ry="1.55"/><ellipse cx="648.0" cy="55.3" rx="1.75" ry="1.55"/><ellipse cx="648.9" cy="56.9" rx="1.75" ry="1.55"/><ellipse cx="646.9" cy="58.3" rx="1.75" ry="1.55"/><ellipse cx="637.9" cy="55.5" rx="1.75" ry="1.55"/><ellipse cx="629.2" cy="58.6" rx="1.75" ry="1.55"/><ellipse cx="638.7" cy="64.0" rx="1.75" ry="1.55"/><ellipse cx="631.6" cy="66.2" rx="1.75" ry="1.55"/><ellipse cx="643.1" cy="65.5" rx="1.75" ry="1.55"/><ellipse cx="646.9" cy="62.6" rx="1.75" ry="1.55"/><ellipse cx="649.3" cy="65.7" rx="1.75" ry="1.55"/><ellipse cx="646.9" cy="69.8" rx="1.75" ry="1.55"/><ellipse cx="644.2" cy="72.8" rx="1.75" ry="1.55"/><ellipse cx="642.5" cy="74.5" rx="1.75" ry="1.55"/><ellipse cx="641.4" cy="76.4" rx="1.75" ry="1.55"/><ellipse cx="646.9" cy="76.6" rx="1.75" ry="1.55"/><ellipse cx="649.7" cy="75.8" rx="1.75" ry="1.55"/><ellipse cx="646.9" cy="82.9" rx="1.75" ry="1.55"/><ellipse cx="646.9" cy="89.2" rx="1.75" ry="1.55"/><ellipse cx="635.4" cy="89.5" rx="1.75" ry="1.55"/></g>
<path class="r" clip-path="url(#c3)" d="M515.1 199.6L682.3 29.7"/>
<rect class="f" x="515.1" y="29.7" width="194.1" height="202.1"/>
<text class="a" x="601.0" y="266.6" textLength="41.6" lengthAdjust="spacingAndGlyphs">Spanish</text>
<text class="y" transform="translate(491.7 155.2) rotate(-90)" textLength="79.3" lengthAdjust="spacingAndGlyphs">English Bird</text>
</g>
<g id="p4">
<clipPath id="c4"><rect x="39.9" y="310.0" width="194.1" height="202.6"/></clipPath>
<text class="t" x="87.3" y="290.4" textLength="103.0" lengthAdjust="spacingAndGlyphs">Norwegian x Turkish</text>
<text class="s" transform="translate(109.3 304.8) scale(0.832 1)">N=84; R<tspan font-size="7.6" dy="-3.8">2</tspan><tspan dy="3.8">=9%</tspan></text>
<text class="k" transform="translate(49.1 526.9) scale(1.17 1)">0</text>
<text class="ky" transform="translate(32.7 503.4) rotate(-90) scale(0.92 1)">0</text>
<text class="k" transform="translate(74.8 526.9) scale(1.17 1)">1</text>
<text class="ky" transform="translate(32.7 476.6) rotate(-90) scale(0.92 1)">1</text>
<text class="k" transform="translate(100.6 526.9) scale(1.17 1)">2</text>
<text class="ky" transform="translate(32.7 449.8) rotate(-90) scale(0.92 1)">2</text>
<text class="k" transform="translate(126.3 526.9) scale(1.17 1)">3</text>
<text class="ky" transform="translate(32.7 423.0) rotate(-90) scale(0.92 1)">3</text>
<text class="k" transform="translate(152.0 526.9) scale(1.17 1)">4</text>
<text class="ky" transform="translate(32.7 396.2) rotate(-90) scale(0.92 1)">4</text>
<text class="k" transform="translate(177.8 526.9) scale(1.17 1)">5</text>
<text class="ky" transform="translate(32.7 369.4) rotate(-90) scale(0.92 1)">5</text>
<text class="k" transform="translate(203.5 526.9) scale(1.17 1)">6</text>
<text class="ky" transform="translate(32.7 342.6) rotate(-90) scale(0.92 1)">6</text>
<text class="k" transform="translate(229.2 526.9) scale(1.17 1)">7</text>
<text class="ky" transform="translate(32.7 315.8) rotate(-90) scale(0.92 1)">7</text>
<path class="tk" d="M46.8 512.6v3.2M39.9 505.0h-4M72.5 512.6v3.2M39.9 478.2h-4M98.3 512.6v3.2M39.9 451.4h-4M124.0 512.6v3.2M39.9 424.6h-4M149.7 512.6v3.2M39.9 397.8h-4M175.4 512.6v3.2M39.9 371.0h-4M201.2 512.6v3.2M39.9 344.2h-4M226.9 512.6v3.2M39.9 317.4h-4"/>
<g class="d"><ellipse cx="139.9" cy="386.7" rx="1.75" ry="1.55"/><ellipse cx="156.0" cy="386.7" rx="1.75" ry="1.55"/><ellipse cx="155.2" cy="413.5" rx="1.75" ry="1.55"/><ellipse cx="147.2" cy="424.2" rx="1.75" ry="1.55"/><ellipse cx="188.2" cy="337.6" rx="1.75" ry="1.55"/><ellipse cx="208.5" cy="356.0" rx="1.75" ry="1.55"/><ellipse cx="199.4" cy="330.5" rx="1.75" ry="1.55"/><ellipse cx="203.2" cy="320.8" rx="1.75" ry="1.55"/><ellipse cx="208.6" cy="320.3" rx="1.75" ry="1.55"/><ellipse cx="205.4" cy="340.5" rx="1.75" ry="1.55"/><ellipse cx="208.6" cy="331.8" rx="1.75" ry="1.55"/><ellipse cx="209.6" cy="325.2" rx="1.75" ry="1.55"/><ellipse cx="212.0" cy="329.2" rx="1.75" ry="1.55"/><ellipse cx="212.7" cy="345.9" rx="1.75" ry="1.55"/><ellipse cx="208.6" cy="356.5" rx="1.75" ry="1.55"/><ellipse cx="219.4" cy="345.4" rx="1.75" ry="1.55"/><ellipse cx="223.8" cy="346.6" rx="1.75" ry="1.55"/><ellipse cx="218.6" cy="337.6" rx="1.75" ry="1.55"/><ellipse cx="224.3" cy="336.1" rx="1.75" ry="1.55"/><ellipse cx="228.3" cy="331.9" rx="1.75" ry="1.55"/><ellipse cx="216.9" cy="334.1" rx="1.75" ry="1.55"/><ellipse cx="217.9" cy="331.6" rx="1.75" ry="1.55"/><ellipse cx="223.3" cy="331.2" rx="1.75" ry="1.55"/><ellipse cx="225.8" cy="327.7" rx="1.75" ry="1.55"/><ellipse cx="220.4" cy="328.2" rx="1.75" ry="1.55"/><ellipse cx="222.4" cy="325.7" rx="1.75" ry="1.55"/><ellipse cx="226.8" cy="323.8" rx="1.75" ry="1.55"/><ellipse cx="213.5" cy="322.8" rx="1.75" ry="1.55"/><ellipse cx="211.5" cy="321.8" rx="1.75" ry="1.55"/><ellipse cx="215.5" cy="323.8" rx="1.75" ry="1.55"/><ellipse cx="217.4" cy="325.2" rx="1.75" ry="1.55"/><ellipse cx="214.0" cy="325.7" rx="1.75" ry="1.55"/><ellipse cx="224.8" cy="322.8" rx="1.75" ry="1.55"/><ellipse cx="213.5" cy="317.6" rx="1.75" ry="1.55"/><ellipse cx="215.5" cy="317.6" rx="1.75" ry="1.55"/><ellipse cx="217.5" cy="317.6" rx="1.75" ry="1.55"/><ellipse cx="219.5" cy="317.6" rx="1.75" ry="1.55"/><ellipse cx="221.5" cy="317.6" rx="1.75" ry="1.55"/><ellipse cx="223.5" cy="317.6" rx="1.75" ry="1.55"/><ellipse cx="225.5" cy="317.6" rx="1.75" ry="1.55"/><ellipse cx="227.5" cy="317.6" rx="1.75" ry="1.55"/><ellipse cx="229.5" cy="317.6" rx="1.75" ry="1.55"/><ellipse cx="212.5" cy="319.6" rx="1.75" ry="1.55"/><ellipse cx="214.5" cy="319.6" rx="1.75" ry="1.55"/><ellipse cx="216.5" cy="319.6" rx="1.75" ry="1.55"/><ellipse cx="218.5" cy="319.6" rx="1.75" ry="1.55"/><ellipse cx="220.5" cy="319.6" rx="1.75" ry="1.55"/><ellipse cx="222.5" cy="319.6" rx="1.75" ry="1.55"/><ellipse cx="224.5" cy="319.6" rx="1.75" ry="1.55"/><ellipse cx="226.5" cy="319.6" rx="1.75" ry="1.55"/><ellipse cx="228.5" cy="319.6" rx="1.75" ry="1.55"/><ellipse cx="230.5" cy="319.6" rx="1.75" ry="1.55"/><ellipse cx="232.3" cy="319.6" rx="1.75" ry="1.55"/><ellipse cx="216.0" cy="321.6" rx="1.75" ry="1.55"/><ellipse cx="218.0" cy="321.6" rx="1.75" ry="1.55"/><ellipse cx="220.0" cy="321.6" rx="1.75" ry="1.55"/><ellipse cx="222.0" cy="321.6" rx="1.75" ry="1.55"/><ellipse cx="224.0" cy="321.6" rx="1.75" ry="1.55"/><ellipse cx="226.0" cy="321.6" rx="1.75" ry="1.55"/><ellipse cx="228.0" cy="321.6" rx="1.75" ry="1.55"/><ellipse cx="217.5" cy="323.6" rx="1.75" ry="1.55"/><ellipse cx="219.5" cy="323.6" rx="1.75" ry="1.55"/><ellipse cx="221.5" cy="323.6" rx="1.75" ry="1.55"/><ellipse cx="223.5" cy="323.6" rx="1.75" ry="1.55"/><ellipse cx="227.5" cy="323.6" rx="1.75" ry="1.55"/><ellipse cx="219.0" cy="330.0" rx="1.75" ry="1.55"/><ellipse cx="221.0" cy="330.5" rx="1.75" ry="1.55"/><ellipse cx="221.0" cy="333.0" rx="1.75" ry="1.55"/><ellipse cx="226.0" cy="332.5" rx="1.75" ry="1.55"/><ellipse cx="219.0" cy="335.5" rx="1.75" ry="1.55"/><ellipse cx="219.5" cy="338.0" rx="1.75" ry="1.55"/></g>
<path class="r" clip-path="url(#c4)" d="M40 499.5L234 310.2"/>
<rect class="f" x="39.9" y="310.0" width="194.1" height="202.6"/>
<text class="a" x="122.2" y="547.0" textLength="36.8" lengthAdjust="spacingAndGlyphs">Turkish</text>
<text class="y" transform="translate(8.4 437.3) rotate(-90)" textLength="68.5" lengthAdjust="spacingAndGlyphs">Norwegian</text>
</g>
<g id="p5">
<clipPath id="c5"><rect x="279.2" y="310.0" width="194.6" height="202.6"/></clipPath>
<text class="t" x="340.0" y="290.4" textLength="94.8" lengthAdjust="spacingAndGlyphs">Hungarian x Italian</text>
<text class="s" transform="translate(356.4 304.8) scale(0.832 1)">N=20; R<tspan font-size="7.6" dy="-3.8">2</tspan><tspan dy="3.8">=69%</tspan></text>
<text class="k" transform="translate(288.2 526.9) scale(1.17 1)">0</text>
<text class="ky" transform="translate(272.0 503.4) rotate(-90) scale(0.92 1)">0</text>
<text class="k" transform="translate(313.9 526.9) scale(1.17 1)">1</text>
<text class="ky" transform="translate(272.0 476.6) rotate(-90) scale(0.92 1)">1</text>
<text class="k" transform="translate(339.7 526.9) scale(1.17 1)">2</text>
<text class="ky" transform="translate(272.0 449.8) rotate(-90) scale(0.92 1)">2</text>
<text class="k" transform="translate(365.4 526.9) scale(1.17 1)">3</text>
<text class="ky" transform="translate(272.0 423.0) rotate(-90) scale(0.92 1)">3</text>
<text class="k" transform="translate(391.1 526.9) scale(1.17 1)">4</text>
<text class="ky" transform="translate(272.0 396.2) rotate(-90) scale(0.92 1)">4</text>
<text class="k" transform="translate(416.8 526.9) scale(1.17 1)">5</text>
<text class="ky" transform="translate(272.0 369.4) rotate(-90) scale(0.92 1)">5</text>
<text class="k" transform="translate(442.6 526.9) scale(1.17 1)">6</text>
<text class="ky" transform="translate(272.0 342.6) rotate(-90) scale(0.92 1)">6</text>
<text class="k" transform="translate(468.3 526.9) scale(1.17 1)">7</text>
<text class="ky" transform="translate(272.0 315.8) rotate(-90) scale(0.92 1)">7</text>
<path class="tk" d="M285.9 512.6v3.2M279.2 505.0h-4M311.6 512.6v3.2M279.2 478.2h-4M337.4 512.6v3.2M279.2 451.4h-4M363.1 512.6v3.2M279.2 424.6h-4M388.8 512.6v3.2M279.2 397.8h-4M414.5 512.6v3.2M279.2 371.0h-4M440.3 512.6v3.2M279.2 344.2h-4M466.0 512.6v3.2M279.2 317.4h-4"/>
<g class="d"><ellipse cx="362.6" cy="434.5" rx="1.75" ry="1.55"/><ellipse cx="370.8" cy="419.2" rx="1.75" ry="1.55"/><ellipse cx="380.2" cy="437.1" rx="1.75" ry="1.55"/><ellipse cx="386.2" cy="405.7" rx="1.75" ry="1.55"/><ellipse cx="439.9" cy="325.8" rx="1.75" ry="1.55"/><ellipse cx="439.7" cy="327.9" rx="1.75" ry="1.55"/><ellipse cx="436.6" cy="328.9" rx="1.75" ry="1.55"/><ellipse cx="437.3" cy="332.1" rx="1.75" ry="1.55"/><ellipse cx="435.1" cy="333.4" rx="1.75" ry="1.55"/><ellipse cx="440.1" cy="336.1" rx="1.75" ry="1.55"/><ellipse cx="431.6" cy="337.6" rx="1.75" ry="1.55"/><ellipse cx="435.6" cy="339.6" rx="1.75" ry="1.55"/><ellipse cx="437.1" cy="342.6" rx="1.75" ry="1.55"/><ellipse cx="423.6" cy="346.6" rx="1.75" ry="1.55"/><ellipse cx="433.9" cy="346.6" rx="1.75" ry="1.55"/><ellipse cx="431.6" cy="363.4" rx="1.75" ry="1.55"/></g>
<path class="r" clip-path="url(#c5)" d="M308.7 512.6L455.9 310.0"/>
<rect class="f" x="279.2" y="310.0" width="194.6" height="202.6"/>
<text class="a" x="364.2" y="547.0" textLength="31.5" lengthAdjust="spacingAndGlyphs">Italian</text>
<text class="y" transform="translate(254.4 434.5) rotate(-90)" textLength="66.2" lengthAdjust="spacingAndGlyphs">Hungarian</text>
</g>
<g id="p6">
<clipPath id="c6"><rect x="515.1" y="310.0" width="194.1" height="202.6"/></clipPath>
<text class="t" x="575.9" y="290.4" textLength="88.3" lengthAdjust="spacingAndGlyphs">Basque x Serbian</text>
<text class="s" transform="translate(588.7 304.8) scale(0.832 1)">N=28; R<tspan font-size="7.6" dy="-3.8">2</tspan><tspan dy="3.8">=20%</tspan></text>
<text class="k" transform="translate(524.3 526.9) scale(1.17 1)">0</text>
<text class="ky" transform="translate(507.9 503.4) rotate(-90) scale(0.92 1)">0</text>
<text class="k" transform="translate(550.0 526.9) scale(1.17 1)">1</text>
<text class="ky" transform="translate(507.9 476.6) rotate(-90) scale(0.92 1)">1</text>
<text class="k" transform="translate(575.8 526.9) scale(1.17 1)">2</text>
<text class="ky" transform="translate(507.9 449.8) rotate(-90) scale(0.92 1)">2</text>
<text class="k" transform="translate(601.5 526.9) scale(1.17 1)">3</text>
<text class="ky" transform="translate(507.9 423.0) rotate(-90) scale(0.92 1)">3</text>
<text class="k" transform="translate(627.3 526.9) scale(1.17 1)">4</text>
<text class="ky" transform="translate(507.9 396.2) rotate(-90) scale(0.92 1)">4</text>
<text class="k" transform="translate(653.0 526.9) scale(1.17 1)">5</text>
<text class="ky" transform="translate(507.9 369.4) rotate(-90) scale(0.92 1)">5</text>
<text class="k" transform="translate(678.7 526.9) scale(1.17 1)">6</text>
<text class="ky" transform="translate(507.9 342.6) rotate(-90) scale(0.92 1)">6</text>
<text class="k" transform="translate(704.5 526.9) scale(1.17 1)">7</text>
<text class="ky" transform="translate(507.9 315.8) rotate(-90) scale(0.92 1)">7</text>
<path class="tk" d="M522.0 512.6v3.2M515.1 505.0h-4M547.7 512.6v3.2M515.1 478.2h-4M573.5 512.6v3.2M515.1 451.4h-4M599.2 512.6v3.2M515.1 424.6h-4M625.0 512.6v3.2M515.1 397.8h-4M650.7 512.6v3.2M515.1 371.0h-4M676.4 512.6v3.2M515.1 344.2h-4M702.2 512.6v3.2M515.1 317.4h-4"/>
<g class="d"><ellipse cx="622.7" cy="327.0" rx="1.75" ry="1.55"/><ellipse cx="639.0" cy="330.4" rx="1.75" ry="1.55"/><ellipse cx="689.4" cy="405.8" rx="1.75" ry="1.55"/><ellipse cx="672.3" cy="319.3" rx="1.75" ry="1.55"/><ellipse cx="673.0" cy="323.0" rx="1.75" ry="1.55"/><ellipse cx="680.6" cy="317.9" rx="1.75" ry="1.55"/><ellipse cx="683.5" cy="317.3" rx="1.75" ry="1.55"/><ellipse cx="682.5" cy="321.1" rx="1.75" ry="1.55"/><ellipse cx="686.1" cy="323.9" rx="1.75" ry="1.55"/><ellipse cx="688.5" cy="322.2" rx="1.75" ry="1.55"/><ellipse cx="691.0" cy="323.7" rx="1.75" ry="1.55"/><ellipse cx="691.0" cy="318.9" rx="1.75" ry="1.55"/><ellipse cx="692.8" cy="318.1" rx="1.75" ry="1.55"/><ellipse cx="698.0" cy="317.5" rx="1.75" ry="1.55"/><ellipse cx="702.3" cy="317.9" rx="1.75" ry="1.55"/><ellipse cx="699.8" cy="321.7" rx="1.75" ry="1.55"/><ellipse cx="696.1" cy="323.2" rx="1.75" ry="1.55"/><ellipse cx="679.9" cy="329.8" rx="1.75" ry="1.55"/><ellipse cx="694.5" cy="328.1" rx="1.75" ry="1.55"/><ellipse cx="692.3" cy="330.8" rx="1.75" ry="1.55"/><ellipse cx="698.7" cy="336.6" rx="1.75" ry="1.55"/><ellipse cx="679.1" cy="343.6" rx="1.75" ry="1.55"/></g>
<path class="r" style="stroke-width:1.55" clip-path="url(#c6)" d="M515.1 340.7L709 323.7"/>
<rect class="f" x="515.1" y="310.0" width="194.1" height="202.6"/>
<text class="a" x="598.7" y="547.0" textLength="39.4" lengthAdjust="spacingAndGlyphs">Serbian</text>
<text class="y" transform="translate(491.2 420.4) rotate(-90)" textLength="48.3" lengthAdjust="spacingAndGlyphs">Basque</text>
</g>
</svg></body></html>
